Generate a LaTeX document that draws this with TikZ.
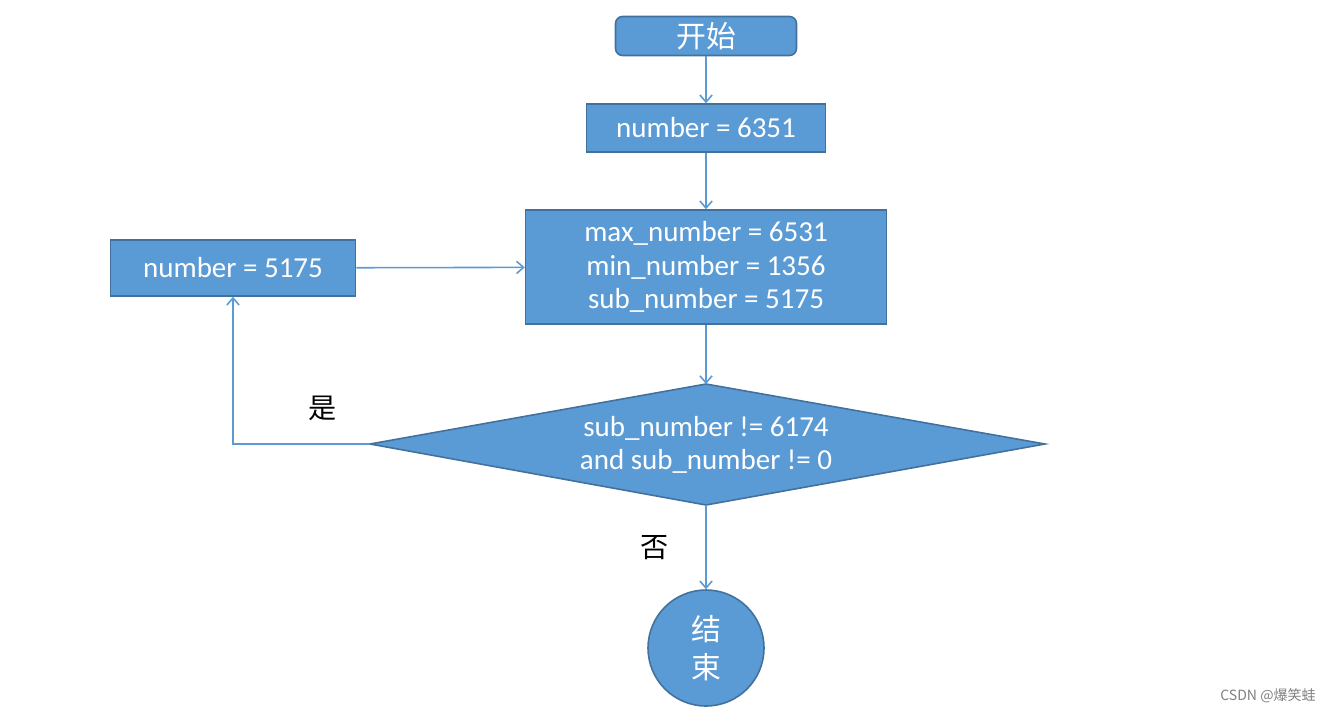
\documentclass[tikz,border=0pt]{standalone}
\usepackage{fontspec}
\setmainfont{Carlito}
\newfontfamily\cjk{Noto Sans CJK SC}
\definecolor{boxfill}{HTML}{5B9BD5}
\definecolor{boxline}{HTML}{41719C}
\definecolor{linecolor}{HTML}{5B9BD5}
\usetikzlibrary{positioning,arrows.meta}
\begin{document}
\begin{tikzpicture}[
  x=0.02cm, y=-0.02cm,
  box/.style={draw=boxline, fill=boxfill, line width=0.9pt, text=white, font=\fontsize{16.5}{20}\selectfont, align=center, inner sep=0pt},
  cjkbox/.style={box, font=\cjk\fontsize{17}{22}\selectfont},
  arrow/.style={draw=linecolor, line width=0.9pt, -{Straight Barb[length=4pt,width=7pt]}},
]
  \useasboundingbox (0,0) rectangle (1332,714);

  \node[cjkbox, rounded corners=4pt, minimum width=3.62cm, minimum height=0.78cm] (start) at (706,36) {开始};
  \node[box, minimum width=4.78cm, minimum height=0.96cm] (init) at (706,128) {number = 6351};
  \node[box, minimum width=7.22cm, minimum height=2.28cm] (calc) at (706,267) {max\_number = 6531\\[-1pt] min\_number = 1356\\[-1pt] sub\_number = 5175};
  \node[box, minimum width=4.9cm, minimum height=1.12cm] (next) at (233,268) {number = 5175};

  % decision
  \coordinate (dN) at (706,384);
  \coordinate (dS) at (706,505);
  \coordinate (dW) at (370,444);
  \coordinate (dE) at (1045,444);
  \draw[draw=boxline, fill=boxfill, line width=0.9pt] (dN) -- (dE) -- (dS) -- (dW) -- cycle;
  \node[text=white, font=\fontsize{16.5}{20}\selectfont, align=center] (cond) at (706,445) {sub\_number != 6174\\[-1pt] and sub\_number != 0};

  \node[cjkbox, circle, minimum size=2.32cm] (stop) at (706,648) {结\\ 束};

  \draw[arrow] (start) -- (init);
  \draw[arrow] (init) -- (calc);
  \draw[arrow] (calc) -- (dN);
  \draw[arrow] (dS) -- (stop);
  \draw[arrow] (dW) -| (next);
  \draw[arrow] (next) -- (calc);

  \node[font=\cjk\fontsize{16}{19}\selectfont] (yes) at (323,408) {是};
  \node[font=\cjk\fontsize{16}{19}\selectfont] (no) at (655,548) {否};
  \node[font=\cjk\fontsize{8}{10}\selectfont, text=gray] (mark) at (1268,696) {CSDN @爆笑蛙};
\end{tikzpicture}
\end{document}
